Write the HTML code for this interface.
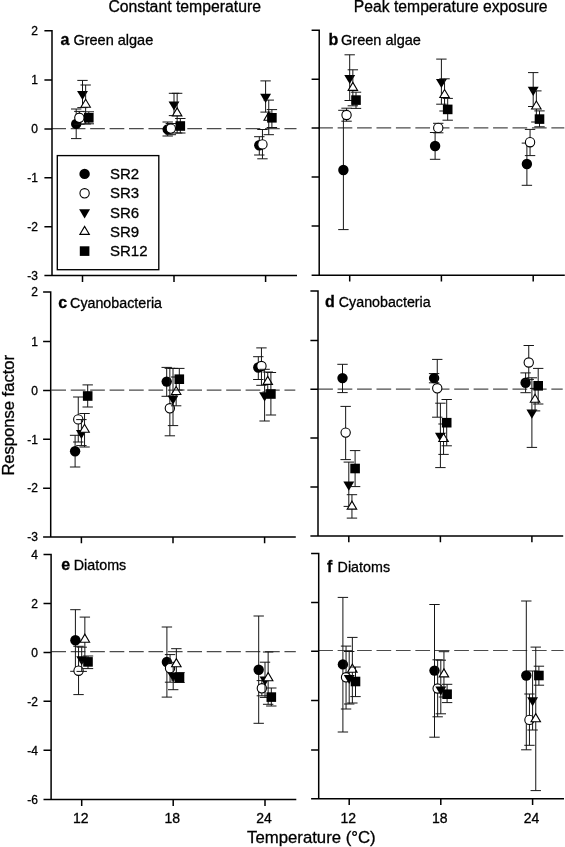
<!DOCTYPE html>
<html lang="en"><head><meta charset="utf-8"><title>Response factor vs temperature</title>
<style>html,body{margin:0;padding:0;background:#fff}svg{display:block}text{stroke:#000;stroke-width:0.3px}</style></head>
<body>
<svg width="565" height="847" viewBox="0 0 565 847" font-family="Liberation Sans, Arial, Helvetica, sans-serif" fill="#000">
<rect width="565" height="847" fill="#fff"/>
<text x="108.4" y="12" font-size="16" textLength="152.6" lengthAdjust="spacingAndGlyphs">Constant temperature</text>
<text x="353.8" y="12" font-size="16" textLength="193.8" lengthAdjust="spacingAndGlyphs">Peak temperature exposure</text>
<text transform="translate(13.6 475.6) rotate(-90)" font-size="16.4" textLength="120.6" lengthAdjust="spacingAndGlyphs">Response factor</text>
<text x="247" y="842.5" font-size="16.6" textLength="128.7" lengthAdjust="spacingAndGlyphs">Temperature (°C)</text>
<path d="M51.30 128.60H296.50" stroke="#4c4c4c" stroke-width="1.2" stroke-dasharray="14.7 4.73" fill="none"/>
<path d="M76.20 109.00V138.60M71.00 109.00H81.40M71.00 138.60H81.40" stroke="#151515" stroke-width="1.0" fill="none"/>
<circle cx="76.20" cy="123.90" r="5.2" fill="#000"/>
<path d="M79.35 111.40V124.20M74.15 111.40H84.55M74.15 124.20H84.55" stroke="#151515" stroke-width="1.0" fill="none"/>
<circle cx="79.35" cy="117.80" r="4.65" fill="#fff" stroke="#000" stroke-width="1.1"/>
<path d="M82.50 80.40V107.60M77.30 80.40H87.70M77.30 107.60H87.70" stroke="#151515" stroke-width="1.0" fill="none"/>
<path d="M77.05 91.00H87.95L82.50 100.10Z" fill="#000"/>
<path d="M85.65 85.00V124.00M80.45 85.00H90.85M80.45 124.00H90.85" stroke="#151515" stroke-width="1.0" fill="none"/>
<path d="M80.90 107.30H90.40L85.65 99.30Z" fill="#fff" stroke="#000" stroke-width="1.1" stroke-linejoin="miter"/>
<path d="M88.80 111.80V123.80M83.60 111.80H94.00M83.60 123.80H94.00" stroke="#151515" stroke-width="1.0" fill="none"/>
<rect x="84.00" y="113.00" width="9.6" height="9.6" fill="#000"/>
<path d="M167.70 122.00V136.00M162.50 122.00H172.90M162.50 136.00H172.90" stroke="#151515" stroke-width="1.0" fill="none"/>
<circle cx="167.70" cy="129.40" r="5.2" fill="#000"/>
<path d="M170.85 123.50V134.70M165.65 123.50H176.05M165.65 134.70H176.05" stroke="#151515" stroke-width="1.0" fill="none"/>
<circle cx="170.85" cy="128.60" r="4.65" fill="#fff" stroke="#000" stroke-width="1.1"/>
<path d="M174.00 93.30V115.60M168.80 93.30H179.20M168.80 115.60H179.20" stroke="#151515" stroke-width="1.0" fill="none"/>
<path d="M168.55 101.40H179.45L174.00 110.50Z" fill="#000"/>
<path d="M177.15 93.30V133.00M171.95 93.30H182.35M171.95 133.00H182.35" stroke="#151515" stroke-width="1.0" fill="none"/>
<path d="M172.40 115.90H181.90L177.15 107.90Z" fill="#fff" stroke="#000" stroke-width="1.1" stroke-linejoin="miter"/>
<path d="M180.30 118.50V133.00M175.10 118.50H185.50M175.10 133.00H185.50" stroke="#151515" stroke-width="1.0" fill="none"/>
<rect x="175.50" y="121.20" width="9.6" height="9.6" fill="#000"/>
<path d="M259.30 136.70V155.00M254.10 136.70H264.50M254.10 155.00H264.50" stroke="#151515" stroke-width="1.0" fill="none"/>
<circle cx="259.30" cy="145.30" r="5.2" fill="#000"/>
<path d="M262.45 129.50V158.80M257.25 129.50H267.65M257.25 158.80H267.65" stroke="#151515" stroke-width="1.0" fill="none"/>
<circle cx="262.45" cy="144.40" r="4.65" fill="#fff" stroke="#000" stroke-width="1.1"/>
<path d="M265.60 80.90V112.10M260.40 80.90H270.80M260.40 112.10H270.80" stroke="#151515" stroke-width="1.0" fill="none"/>
<path d="M260.15 93.80H271.05L265.60 102.90Z" fill="#000"/>
<path d="M268.75 100.10V134.70M263.55 100.10H273.95M263.55 134.70H273.95" stroke="#151515" stroke-width="1.0" fill="none"/>
<path d="M264.00 120.20H273.50L268.75 112.20Z" fill="#fff" stroke="#000" stroke-width="1.1" stroke-linejoin="miter"/>
<path d="M271.90 109.60V127.50M266.70 109.60H277.10M266.70 127.50H277.10" stroke="#151515" stroke-width="1.0" fill="none"/>
<rect x="267.10" y="113.00" width="9.6" height="9.6" fill="#000"/>
<path d="M52.00 29.95V275.60H297.00M44.40 30.70H52.00M44.40 80.00H52.00M44.40 129.00H52.00M44.40 177.80H52.00M44.40 226.70H52.00M44.40 275.60H52.00M82.50 275.60V281.90M174.00 275.60V281.90M265.60 275.60V281.90" stroke="#000" stroke-width="1.5" fill="none" stroke-linecap="butt"/>
<text x="37.9" y="34.90" font-size="12" text-anchor="end">2</text>
<text x="37.9" y="84.20" font-size="12" text-anchor="end">1</text>
<text x="37.9" y="133.20" font-size="12" text-anchor="end">0</text>
<text x="37.9" y="182.00" font-size="12" text-anchor="end">-1</text>
<text x="37.9" y="230.90" font-size="12" text-anchor="end">-2</text>
<text x="37.9" y="279.80" font-size="12" text-anchor="end">-3</text>
<text x="60.5" y="45.0" font-size="16" font-weight="bold">a</text>
<text x="73.4" y="45.0" font-size="14.5">Green algae</text>
<path d="M318.20 127.80H564.30" stroke="#4c4c4c" stroke-width="1.2" stroke-dasharray="14.7 4.73" fill="none"/>
<path d="M343.40 110.30V229.60M338.20 110.30H348.60M338.20 229.60H348.60" stroke="#151515" stroke-width="1.0" fill="none"/>
<circle cx="343.40" cy="170.00" r="5.2" fill="#000"/>
<path d="M346.55 108.20V121.20M341.35 108.20H351.75M341.35 121.20H351.75" stroke="#151515" stroke-width="1.0" fill="none"/>
<circle cx="346.55" cy="115.00" r="4.65" fill="#fff" stroke="#000" stroke-width="1.1"/>
<path d="M349.70 54.80V100.50M344.50 54.80H354.90M344.50 100.50H354.90" stroke="#151515" stroke-width="1.0" fill="none"/>
<path d="M344.25 74.90H355.15L349.70 84.00Z" fill="#000"/>
<path d="M352.85 69.80V105.80M347.65 69.80H358.05M347.65 105.80H358.05" stroke="#151515" stroke-width="1.0" fill="none"/>
<path d="M348.10 90.40H357.60L352.85 82.40Z" fill="#fff" stroke="#000" stroke-width="1.1" stroke-linejoin="miter"/>
<path d="M356.00 92.20V108.40M350.80 92.20H361.20M350.80 108.40H361.20" stroke="#151515" stroke-width="1.0" fill="none"/>
<rect x="351.20" y="95.30" width="9.6" height="9.6" fill="#000"/>
<path d="M435.10 132.50V159.30M429.90 132.50H440.30M429.90 159.30H440.30" stroke="#151515" stroke-width="1.0" fill="none"/>
<circle cx="435.10" cy="146.00" r="5.2" fill="#000"/>
<path d="M438.25 123.30V132.80M433.05 123.30H443.45M433.05 132.80H443.45" stroke="#151515" stroke-width="1.0" fill="none"/>
<circle cx="438.25" cy="127.90" r="4.65" fill="#fff" stroke="#000" stroke-width="1.1"/>
<path d="M441.40 59.10V104.20M436.20 59.10H446.60M436.20 104.20H446.60" stroke="#151515" stroke-width="1.0" fill="none"/>
<path d="M435.95 79.00H446.85L441.40 88.10Z" fill="#000"/>
<path d="M444.55 78.80V111.00M439.35 78.80H449.75M439.35 111.00H449.75" stroke="#151515" stroke-width="1.0" fill="none"/>
<path d="M439.80 97.50H449.30L444.55 89.50Z" fill="#fff" stroke="#000" stroke-width="1.1" stroke-linejoin="miter"/>
<path d="M447.70 98.40V120.20M442.50 98.40H452.90M442.50 120.20H452.90" stroke="#151515" stroke-width="1.0" fill="none"/>
<rect x="442.90" y="104.60" width="9.6" height="9.6" fill="#000"/>
<path d="M526.90 143.10V185.30M521.70 143.10H532.10M521.70 185.30H532.10" stroke="#151515" stroke-width="1.0" fill="none"/>
<circle cx="526.90" cy="164.00" r="5.2" fill="#000"/>
<path d="M530.05 129.40V155.60M524.85 129.40H535.25M524.85 155.60H535.25" stroke="#151515" stroke-width="1.0" fill="none"/>
<circle cx="530.05" cy="142.20" r="4.65" fill="#fff" stroke="#000" stroke-width="1.1"/>
<path d="M533.20 72.60V106.50M528.00 72.60H538.40M528.00 106.50H538.40" stroke="#151515" stroke-width="1.0" fill="none"/>
<path d="M527.75 86.80H538.65L533.20 95.90Z" fill="#000"/>
<path d="M536.35 90.90V122.00M531.15 90.90H541.55M531.15 122.00H541.55" stroke="#151515" stroke-width="1.0" fill="none"/>
<path d="M531.60 109.00H541.10L536.35 101.00Z" fill="#fff" stroke="#000" stroke-width="1.1" stroke-linejoin="miter"/>
<path d="M539.50 110.90V126.80M534.30 110.90H544.70M534.30 126.80H544.70" stroke="#151515" stroke-width="1.0" fill="none"/>
<rect x="534.70" y="114.30" width="9.6" height="9.6" fill="#000"/>
<path d="M319.20 29.45V275.30H564.80M311.60 30.20H319.20M311.60 79.30H319.20M311.60 128.00H319.20M311.60 177.00H319.20M311.60 226.00H319.20M311.60 275.30H319.20M349.70 275.30V281.60M441.40 275.30V281.60M533.20 275.30V281.60" stroke="#000" stroke-width="1.5" fill="none" stroke-linecap="butt"/>
<text x="328.4" y="44.6" font-size="16" font-weight="bold">b</text>
<text x="341.1" y="44.6" font-size="14.5">Green algae</text>
<path d="M51.30 390.10H295.30" stroke="#4c4c4c" stroke-width="1.2" stroke-dasharray="14.7 4.73" fill="none"/>
<path d="M75.10 435.30V467.00M69.90 435.30H80.30M69.90 467.00H80.30" stroke="#151515" stroke-width="1.0" fill="none"/>
<circle cx="75.10" cy="451.20" r="5.2" fill="#000"/>
<path d="M78.25 397.00V442.00M73.05 397.00H83.45M73.05 442.00H83.45" stroke="#151515" stroke-width="1.0" fill="none"/>
<circle cx="78.25" cy="419.40" r="4.65" fill="#fff" stroke="#000" stroke-width="1.1"/>
<path d="M81.40 419.60V445.60M76.20 419.60H86.60M76.20 445.60H86.60" stroke="#151515" stroke-width="1.0" fill="none"/>
<path d="M75.95 430.00H86.85L81.40 439.10Z" fill="#000"/>
<path d="M84.55 413.50V447.00M79.35 413.50H89.75M79.35 447.00H89.75" stroke="#151515" stroke-width="1.0" fill="none"/>
<path d="M79.80 432.30H89.30L84.55 424.30Z" fill="#fff" stroke="#000" stroke-width="1.1" stroke-linejoin="miter"/>
<path d="M87.70 384.90V407.00M82.50 384.90H92.90M82.50 407.00H92.90" stroke="#151515" stroke-width="1.0" fill="none"/>
<rect x="82.90" y="391.20" width="9.6" height="9.6" fill="#000"/>
<path d="M166.70 367.40V396.30M161.50 367.40H171.90M161.50 396.30H171.90" stroke="#151515" stroke-width="1.0" fill="none"/>
<circle cx="166.70" cy="381.60" r="5.2" fill="#000"/>
<path d="M169.85 368.30V435.80M164.65 368.30H175.05M164.65 435.80H175.05" stroke="#151515" stroke-width="1.0" fill="none"/>
<circle cx="169.85" cy="408.30" r="4.65" fill="#fff" stroke="#000" stroke-width="1.1"/>
<path d="M173.00 368.40V425.60M167.80 368.40H178.20M167.80 425.60H178.20" stroke="#151515" stroke-width="1.0" fill="none"/>
<path d="M167.55 395.60H178.45L173.00 404.70Z" fill="#000"/>
<path d="M176.15 377.00V405.80M170.95 377.00H181.35M170.95 405.80H181.35" stroke="#151515" stroke-width="1.0" fill="none"/>
<path d="M171.40 394.50H180.90L176.15 386.50Z" fill="#fff" stroke="#000" stroke-width="1.1" stroke-linejoin="miter"/>
<path d="M179.30 368.40V390.00M174.10 368.40H184.50M174.10 390.00H184.50" stroke="#151515" stroke-width="1.0" fill="none"/>
<rect x="174.50" y="374.40" width="9.6" height="9.6" fill="#000"/>
<path d="M258.30 356.70V379.50M253.10 356.70H263.50M253.10 379.50H263.50" stroke="#151515" stroke-width="1.0" fill="none"/>
<circle cx="258.30" cy="367.50" r="5.2" fill="#000"/>
<path d="M261.45 347.90V385.30M256.25 347.90H266.65M256.25 385.30H266.65" stroke="#151515" stroke-width="1.0" fill="none"/>
<circle cx="261.45" cy="366.00" r="4.65" fill="#fff" stroke="#000" stroke-width="1.1"/>
<path d="M264.60 369.30V421.00M259.40 369.30H269.80M259.40 421.00H269.80" stroke="#151515" stroke-width="1.0" fill="none"/>
<path d="M259.15 392.30H270.05L264.60 401.40Z" fill="#000"/>
<path d="M267.75 372.00V392.00M262.55 372.00H272.95M262.55 392.00H272.95" stroke="#151515" stroke-width="1.0" fill="none"/>
<path d="M263.00 384.40H272.50L267.75 376.40Z" fill="#fff" stroke="#000" stroke-width="1.1" stroke-linejoin="miter"/>
<path d="M270.90 372.50V415.00M265.70 372.50H276.10M265.70 415.00H276.10" stroke="#151515" stroke-width="1.0" fill="none"/>
<rect x="266.10" y="389.20" width="9.6" height="9.6" fill="#000"/>
<path d="M50.70 291.25V536.90H295.80M43.10 292.00H50.70M43.10 341.40H50.70M43.10 390.40H50.70M43.10 439.30H50.70M43.10 488.20H50.70M43.10 536.90H50.70M81.40 536.90V543.20M173.00 536.90V543.20M264.60 536.90V543.20" stroke="#000" stroke-width="1.5" fill="none" stroke-linecap="butt"/>
<text x="37.9" y="296.20" font-size="12" text-anchor="end">2</text>
<text x="37.9" y="345.60" font-size="12" text-anchor="end">1</text>
<text x="37.9" y="394.60" font-size="12" text-anchor="end">0</text>
<text x="37.9" y="443.50" font-size="12" text-anchor="end">-1</text>
<text x="37.9" y="492.40" font-size="12" text-anchor="end">-2</text>
<text x="37.9" y="541.10" font-size="12" text-anchor="end">-3</text>
<text x="58.3" y="308.0" font-size="16" font-weight="bold">c</text>
<text x="70.1" y="308.0" font-size="14.25">Cyanobacteria</text>
<path d="M318.20 389.10H562.70" stroke="#4c4c4c" stroke-width="1.2" stroke-dasharray="14.7 4.73" fill="none"/>
<path d="M342.50 364.30V392.60M337.30 364.30H347.70M337.30 392.60H347.70" stroke="#151515" stroke-width="1.0" fill="none"/>
<circle cx="342.50" cy="378.10" r="5.2" fill="#000"/>
<path d="M345.65 406.40V459.60M340.45 406.40H350.85M340.45 459.60H350.85" stroke="#151515" stroke-width="1.0" fill="none"/>
<circle cx="345.65" cy="432.60" r="4.65" fill="#fff" stroke="#000" stroke-width="1.1"/>
<path d="M348.80 462.10V506.40M343.60 462.10H354.00M343.60 506.40H354.00" stroke="#151515" stroke-width="1.0" fill="none"/>
<path d="M343.35 481.60H354.25L348.80 490.70Z" fill="#000"/>
<path d="M351.95 494.70V518.10M346.75 494.70H357.15M346.75 518.10H357.15" stroke="#151515" stroke-width="1.0" fill="none"/>
<path d="M347.20 509.10H356.70L351.95 501.10Z" fill="#fff" stroke="#000" stroke-width="1.1" stroke-linejoin="miter"/>
<path d="M355.10 450.60V486.60M349.90 450.60H360.30M349.90 486.60H360.30" stroke="#151515" stroke-width="1.0" fill="none"/>
<rect x="350.30" y="463.70" width="9.6" height="9.6" fill="#000"/>
<path d="M434.10 373.60V382.80M428.90 373.60H439.30M428.90 382.80H439.30" stroke="#151515" stroke-width="1.0" fill="none"/>
<circle cx="434.10" cy="378.10" r="5.2" fill="#000"/>
<path d="M437.25 359.40V417.20M432.05 359.40H442.45M432.05 417.20H442.45" stroke="#151515" stroke-width="1.0" fill="none"/>
<circle cx="437.25" cy="388.30" r="4.65" fill="#fff" stroke="#000" stroke-width="1.1"/>
<path d="M440.40 403.20V467.60M435.20 403.20H445.60M435.20 467.60H445.60" stroke="#151515" stroke-width="1.0" fill="none"/>
<path d="M434.95 432.80H445.85L440.40 441.90Z" fill="#000"/>
<path d="M443.55 424.00V454.40M438.35 424.00H448.75M438.35 454.40H448.75" stroke="#151515" stroke-width="1.0" fill="none"/>
<path d="M438.80 441.50H448.30L443.55 433.50Z" fill="#fff" stroke="#000" stroke-width="1.1" stroke-linejoin="miter"/>
<path d="M446.70 399.50V445.80M441.50 399.50H451.90M441.50 445.80H451.90" stroke="#151515" stroke-width="1.0" fill="none"/>
<rect x="441.90" y="417.90" width="9.6" height="9.6" fill="#000"/>
<path d="M525.60 372.90V392.70M520.40 372.90H530.80M520.40 392.70H530.80" stroke="#151515" stroke-width="1.0" fill="none"/>
<circle cx="525.60" cy="382.80" r="5.2" fill="#000"/>
<path d="M528.75 345.50V379.40M523.55 345.50H533.95M523.55 379.40H533.95" stroke="#151515" stroke-width="1.0" fill="none"/>
<circle cx="528.75" cy="362.50" r="4.65" fill="#fff" stroke="#000" stroke-width="1.1"/>
<path d="M531.90 377.80V447.40M526.70 377.80H537.10M526.70 447.40H537.10" stroke="#151515" stroke-width="1.0" fill="none"/>
<path d="M526.45 409.60H537.35L531.90 418.70Z" fill="#000"/>
<path d="M535.05 388.40V410.90M529.85 388.40H540.25M529.85 410.90H540.25" stroke="#151515" stroke-width="1.0" fill="none"/>
<path d="M530.30 402.30H539.80L535.05 394.30Z" fill="#fff" stroke="#000" stroke-width="1.1" stroke-linejoin="miter"/>
<path d="M538.20 368.40V404.00M533.00 368.40H543.40M533.00 404.00H543.40" stroke="#151515" stroke-width="1.0" fill="none"/>
<rect x="533.40" y="381.00" width="9.6" height="9.6" fill="#000"/>
<path d="M318.00 290.35V535.90H563.20M310.40 291.10H318.00M310.40 340.60H318.00M310.40 389.30H318.00M310.40 437.90H318.00M310.40 487.00H318.00M310.40 535.90H318.00M348.80 535.90V542.20M440.40 535.90V542.20M531.90 535.90V542.20" stroke="#000" stroke-width="1.5" fill="none" stroke-linecap="butt"/>
<text x="324.9" y="307.3" font-size="16" font-weight="bold">d</text>
<text x="338.8" y="307.3" font-size="14.25">Cyanobacteria</text>
<path d="M51.30 651.70H295.80" stroke="#4c4c4c" stroke-width="1.2" stroke-dasharray="14.7 4.73" fill="none"/>
<path d="M75.40 609.70V671.30M70.20 609.70H80.60M70.20 671.30H80.60" stroke="#151515" stroke-width="1.0" fill="none"/>
<circle cx="75.40" cy="640.20" r="5.2" fill="#000"/>
<path d="M78.55 646.30V694.60M73.35 646.30H83.75M73.35 694.60H83.75" stroke="#151515" stroke-width="1.0" fill="none"/>
<circle cx="78.55" cy="670.70" r="4.65" fill="#fff" stroke="#000" stroke-width="1.1"/>
<path d="M81.70 647.20V671.40M76.50 647.20H86.90M76.50 671.40H86.90" stroke="#151515" stroke-width="1.0" fill="none"/>
<path d="M76.25 656.20H87.15L81.70 665.30Z" fill="#000"/>
<path d="M84.85 617.10V662.00M79.65 617.10H90.05M79.65 662.00H90.05" stroke="#151515" stroke-width="1.0" fill="none"/>
<path d="M80.10 642.20H89.60L84.85 634.20Z" fill="#fff" stroke="#000" stroke-width="1.1" stroke-linejoin="miter"/>
<path d="M88.00 656.00V668.60M82.80 656.00H93.20M82.80 668.60H93.20" stroke="#151515" stroke-width="1.0" fill="none"/>
<rect x="83.20" y="657.10" width="9.6" height="9.6" fill="#000"/>
<path d="M166.90 627.00V697.10M161.70 627.00H172.10M161.70 697.10H172.10" stroke="#151515" stroke-width="1.0" fill="none"/>
<circle cx="166.90" cy="662.00" r="5.2" fill="#000"/>
<path d="M170.05 654.60V682.20M164.85 654.60H175.25M164.85 682.20H175.25" stroke="#151515" stroke-width="1.0" fill="none"/>
<circle cx="170.05" cy="668.20" r="4.65" fill="#fff" stroke="#000" stroke-width="1.1"/>
<path d="M173.20 662.30V689.70M168.00 662.30H178.40M168.00 689.70H178.40" stroke="#151515" stroke-width="1.0" fill="none"/>
<path d="M167.75 673.00H178.65L173.20 682.10Z" fill="#000"/>
<path d="M176.35 648.70V680.00M171.15 648.70H181.55M171.15 680.00H181.55" stroke="#151515" stroke-width="1.0" fill="none"/>
<path d="M171.60 666.70H181.10L176.35 658.70Z" fill="#fff" stroke="#000" stroke-width="1.1" stroke-linejoin="miter"/>
<path d="M179.50 672.60V682.50M174.30 672.60H184.70M174.30 682.50H184.70" stroke="#151515" stroke-width="1.0" fill="none"/>
<rect x="174.70" y="672.70" width="9.6" height="9.6" fill="#000"/>
<path d="M258.70 616.00V723.30M253.50 616.00H263.90M253.50 723.30H263.90" stroke="#151515" stroke-width="1.0" fill="none"/>
<circle cx="258.70" cy="669.70" r="5.2" fill="#000"/>
<path d="M261.85 680.60V695.80M256.65 680.60H267.05M256.65 695.80H267.05" stroke="#151515" stroke-width="1.0" fill="none"/>
<circle cx="261.85" cy="688.30" r="4.65" fill="#fff" stroke="#000" stroke-width="1.1"/>
<path d="M265.00 662.20V697.40M259.80 662.20H270.20M259.80 697.40H270.20" stroke="#151515" stroke-width="1.0" fill="none"/>
<path d="M259.55 676.60H270.45L265.00 685.70Z" fill="#000"/>
<path d="M268.15 652.00V704.30M262.95 652.00H273.35M262.95 704.30H273.35" stroke="#151515" stroke-width="1.0" fill="none"/>
<path d="M263.40 680.70H272.90L268.15 672.70Z" fill="#fff" stroke="#000" stroke-width="1.1" stroke-linejoin="miter"/>
<path d="M271.30 688.00V706.00M266.10 688.00H276.50M266.10 706.00H276.50" stroke="#151515" stroke-width="1.0" fill="none"/>
<rect x="266.50" y="692.30" width="9.6" height="9.6" fill="#000"/>
<path d="M51.10 553.85V799.60H296.30M43.50 554.60H51.10M43.50 603.50H51.10M43.50 652.40H51.10M43.50 701.30H51.10M43.50 750.30H51.10M43.50 799.60H51.10M81.70 799.60V805.90M173.20 799.60V805.90M265.00 799.60V805.90" stroke="#000" stroke-width="1.5" fill="none" stroke-linecap="butt"/>
<text x="37.9" y="558.80" font-size="12" text-anchor="end">4</text>
<text x="37.9" y="607.70" font-size="12" text-anchor="end">2</text>
<text x="37.9" y="656.60" font-size="12" text-anchor="end">0</text>
<text x="37.9" y="705.50" font-size="12" text-anchor="end">-2</text>
<text x="37.9" y="754.50" font-size="12" text-anchor="end">-4</text>
<text x="37.9" y="803.80" font-size="12" text-anchor="end">-6</text>
<text x="61.2" y="570.4" font-size="16" font-weight="bold">e</text>
<text x="73.8" y="570.4" font-size="14.3">Diatoms</text>
<path d="M318.20 650.50H563.50" stroke="#4c4c4c" stroke-width="1.2" stroke-dasharray="14.7 4.73" fill="none"/>
<path d="M342.90 597.40V732.00M337.70 597.40H348.10M337.70 732.00H348.10" stroke="#151515" stroke-width="1.0" fill="none"/>
<circle cx="342.90" cy="664.40" r="5.2" fill="#000"/>
<path d="M346.05 646.10V709.00M340.85 646.10H351.25M340.85 709.00H351.25" stroke="#151515" stroke-width="1.0" fill="none"/>
<circle cx="346.05" cy="677.30" r="4.65" fill="#fff" stroke="#000" stroke-width="1.1"/>
<path d="M349.20 651.50V704.00M344.00 651.50H354.40M344.00 704.00H354.40" stroke="#151515" stroke-width="1.0" fill="none"/>
<path d="M343.75 674.90H354.65L349.20 684.00Z" fill="#000"/>
<path d="M352.35 637.40V703.00M347.15 637.40H357.55M347.15 703.00H357.55" stroke="#151515" stroke-width="1.0" fill="none"/>
<path d="M347.60 672.20H357.10L352.35 664.20Z" fill="#fff" stroke="#000" stroke-width="1.1" stroke-linejoin="miter"/>
<path d="M355.50 667.00V696.60M350.30 667.00H360.70M350.30 696.60H360.70" stroke="#151515" stroke-width="1.0" fill="none"/>
<rect x="350.70" y="676.70" width="9.6" height="9.6" fill="#000"/>
<path d="M434.50 604.50V737.20M429.30 604.50H439.70M429.30 737.20H439.70" stroke="#151515" stroke-width="1.0" fill="none"/>
<circle cx="434.50" cy="670.60" r="5.2" fill="#000"/>
<path d="M437.65 659.80V716.80M432.45 659.80H442.85M432.45 716.80H442.85" stroke="#151515" stroke-width="1.0" fill="none"/>
<circle cx="437.65" cy="688.50" r="4.65" fill="#fff" stroke="#000" stroke-width="1.1"/>
<path d="M440.80 660.20V713.80M435.60 660.20H446.00M435.60 713.80H446.00" stroke="#151515" stroke-width="1.0" fill="none"/>
<path d="M435.35 686.40H446.25L440.80 695.50Z" fill="#000"/>
<path d="M443.95 651.70V697.00M438.75 651.70H449.15M438.75 697.00H449.15" stroke="#151515" stroke-width="1.0" fill="none"/>
<path d="M439.20 676.90H448.70L443.95 668.90Z" fill="#fff" stroke="#000" stroke-width="1.1" stroke-linejoin="miter"/>
<path d="M447.10 684.30V702.60M441.90 684.30H452.30M441.90 702.60H452.30" stroke="#151515" stroke-width="1.0" fill="none"/>
<rect x="442.30" y="689.40" width="9.6" height="9.6" fill="#000"/>
<path d="M526.30 601.00V749.80M521.10 601.00H531.50M521.10 749.80H531.50" stroke="#151515" stroke-width="1.0" fill="none"/>
<circle cx="526.30" cy="675.50" r="5.2" fill="#000"/>
<path d="M529.45 694.00V745.30M524.25 694.00H534.65M524.25 745.30H534.65" stroke="#151515" stroke-width="1.0" fill="none"/>
<circle cx="529.45" cy="719.90" r="4.65" fill="#fff" stroke="#000" stroke-width="1.1"/>
<path d="M532.60 671.00V730.00M527.40 671.00H537.80M527.40 730.00H537.80" stroke="#151515" stroke-width="1.0" fill="none"/>
<path d="M527.15 697.20H538.05L532.60 706.30Z" fill="#000"/>
<path d="M535.75 647.10V790.60M530.55 647.10H540.95M530.55 790.60H540.95" stroke="#151515" stroke-width="1.0" fill="none"/>
<path d="M531.00 721.70H540.50L535.75 713.70Z" fill="#fff" stroke="#000" stroke-width="1.1" stroke-linejoin="miter"/>
<path d="M538.90 666.20V685.20M533.70 666.20H544.10M533.70 685.20H544.10" stroke="#151515" stroke-width="1.0" fill="none"/>
<rect x="534.10" y="670.70" width="9.6" height="9.6" fill="#000"/>
<path d="M318.70 552.85V798.80H564.00M311.10 553.60H318.70M311.10 602.50H318.70M311.10 651.20H318.70M311.10 700.50H318.70M311.10 750.00H318.70M311.10 798.80H318.70M349.20 798.80V805.10M440.80 798.80V805.10M532.60 798.80V805.10" stroke="#000" stroke-width="1.5" fill="none" stroke-linecap="butt"/>
<text x="327.1" y="572.2" font-size="16" font-weight="bold">f</text>
<text x="337.6" y="572.2" font-size="14.3">Diatoms</text>
<text x="80.70" y="822.5" font-size="14" text-anchor="middle">12</text>
<text x="172.20" y="822.5" font-size="14" text-anchor="middle">18</text>
<text x="264.00" y="822.5" font-size="14" text-anchor="middle">24</text>
<text x="348.20" y="822.5" font-size="14" text-anchor="middle">12</text>
<text x="439.80" y="822.5" font-size="14" text-anchor="middle">18</text>
<text x="531.60" y="822.5" font-size="14" text-anchor="middle">24</text>
<rect x="57.3" y="155.6" width="101.5" height="114.1" fill="#fff" stroke="#000" stroke-width="1.35"/>
<circle cx="84.60" cy="173.90" r="5.2" fill="#000"/>
<circle cx="84.60" cy="193.30" r="4.65" fill="#fff" stroke="#000" stroke-width="1.1"/>
<path d="M79.15 209.30H90.05L84.60 218.40Z" fill="#000"/>
<path d="M79.85 234.40H89.35L84.60 226.40Z" fill="#fff" stroke="#000" stroke-width="1.1" stroke-linejoin="miter"/>
<rect x="79.80" y="246.30" width="9.6" height="9.6" fill="#000"/>
<text x="110.0" y="178.8" font-size="15">SR2</text>
<text x="110.0" y="198.2" font-size="15">SR3</text>
<text x="110.0" y="217.5" font-size="15">SR6</text>
<text x="110.0" y="236.7" font-size="15">SR9</text>
<text x="110.0" y="256.0" font-size="15">SR12</text>
</svg>
</body></html>
